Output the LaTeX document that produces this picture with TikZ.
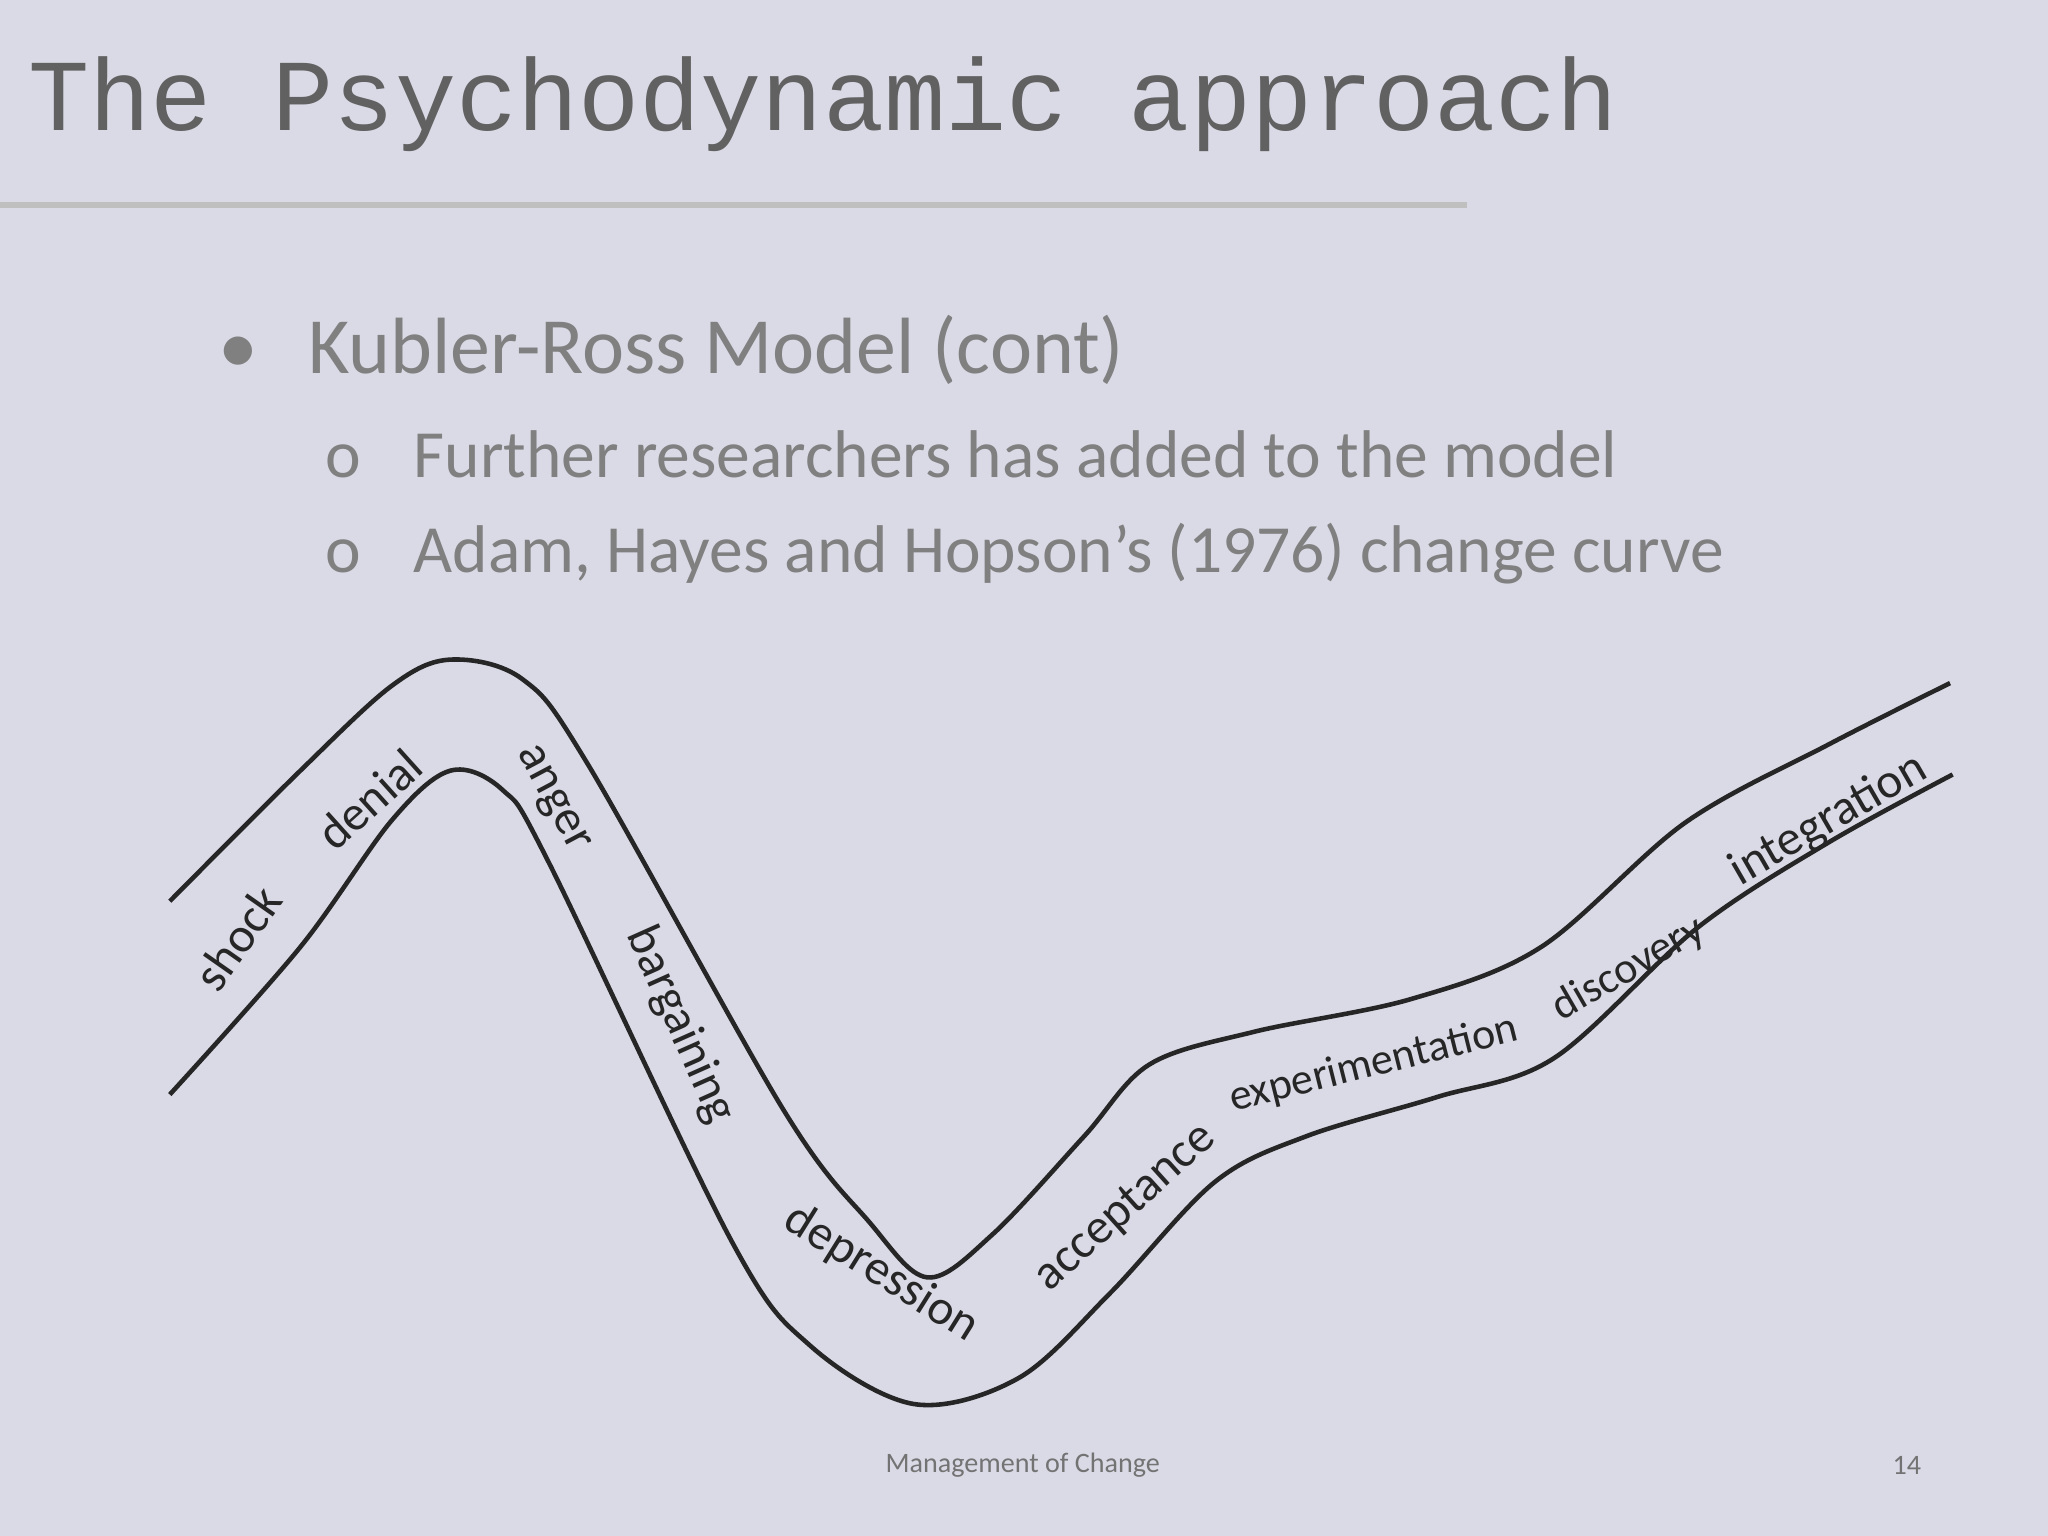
\documentclass[tikz,border=0pt]{standalone}
\usepackage{fontspec}
\setmainfont{Carlito}
\newfontfamily\titlefont{Liberation Mono}
\begin{document}
\begin{tikzpicture}[x=0.013061cm,y=-0.013061cm,
  band/.style={line width=1.3pt,black!85},
  hw/.style={font=\fontsize{14}{14}\selectfont,black!85,inner sep=1pt},
  body/.style={text=black!50,anchor=west}]
\fill[fill={rgb,255:red,217;green,218;blue,230}] (0,0) rectangle (1568,1176);
\useasboundingbox (0,0) rectangle (1568,1176);
\node[anchor=west,text=black!62,font=\titlefont\fontsize{29}{29}\selectfont] (title) at (12,80) {The Psychodynamic approach};
\draw[black!25,line width=1.5pt] (0,157) -- (1123,157);
\node[body,font=\fontsize{22.7}{22.7}\selectfont] (b1) at (158,268) {\textbullet\hspace{0.4em} Kubler-Ross Model (cont)};
\node[body,font=\fontsize{19.2}{19.2}\selectfont] (b2) at (240,348) {o\hspace{0.55em} Further researchers has added to the model};
\node[body,font=\fontsize{19.2}{19.2}\selectfont] (b3) at (240,424) {o\hspace{0.55em} Adam, Hayes and Hopson’s (1976) change curve};
\draw[band] plot[smooth,tension=0.55] coordinates {(130,690) (230,590) (300,525) (345,505) (400,520) (450,585) (600,850) (665,935) (710,978) (760,945) (830,870) (880,815) (960,790) (1080,765) (1180,725) (1290,630) (1400,570) (1493,523)};
\draw[band] plot[smooth,tension=0.55] coordinates {(130,838) (230,725) (300,628) (345,590) (385,605) (420,660) (560,950) (620,1030) (700,1075) (780,1055) (850,990) (930,905) (1000,870) (1100,840) (1190,810) (1300,710) (1400,645) (1495,593)};
\node[hw,rotate=55] (s1) at (182,718) {shock};
\node[hw,rotate=42] (s2) at (283,612) {denial};
\node[hw,rotate=-62] (s3) at (422,612) {anger};
\node[hw,rotate=-66] (s4) at (521,785) {bargaining};
\node[hw,rotate=-32] (s5) at (675,975) {depression};
\node[hw,rotate=42] (s6) at (862,925) {acceptance};
\node[hw,font=\fontsize{12.5}{12.5}\selectfont,rotate=14] (s7) at (1052,815) {experimentation};
\node[hw,font=\fontsize{12.5}{12.5}\selectfont,rotate=30] (s8) at (1247,742) {discovery};
\node[hw,rotate=30] (s9) at (1400,628) {integration};
\node[text=black!55,font=\fontsize{8}{8}\selectfont] (f1) at (783,1122) {Management of Change};
\node[text=black!55,font=\fontsize{8}{8}\selectfont] (f2) at (1460,1122) {14};
\end{tikzpicture}
\end{document}
